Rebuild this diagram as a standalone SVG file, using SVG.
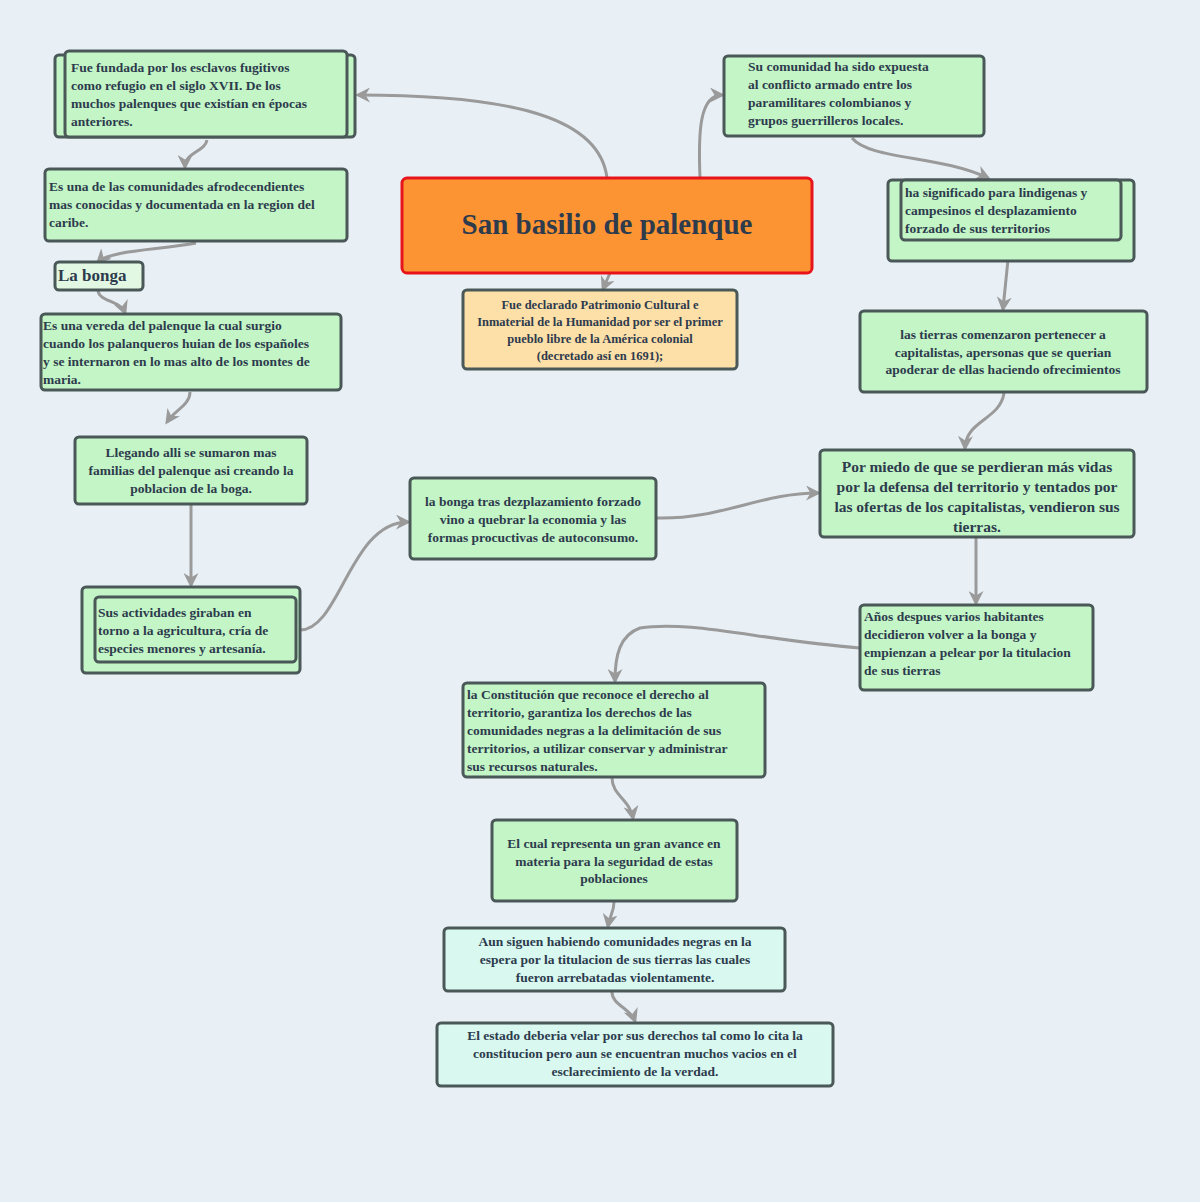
<svg xmlns="http://www.w3.org/2000/svg" width="1200" height="1202" viewBox="0 0 1200 1202">
<defs>
<marker id="ah" viewBox="0 0 10 10" refX="8" refY="5" markerWidth="5" markerHeight="5" orient="auto-start-reverse"><path d="M0,0 L10,5 L0,10 L3,5 Z" fill="#9a9a9a"/></marker>
<style>
.n{fill:#c3f5c6;stroke:#4a5858;stroke-width:3}
.c{fill:none;stroke:#9a9a9a;stroke-width:3;marker-end:url(#ah)}
text{font-family:"Liberation Serif","DejaVu Serif",serif;font-weight:bold;fill:#2d3b4d;font-size:13.5px}
.m{text-anchor:middle}
</style>
</defs>
<rect width="1200" height="1202" fill="#e8f0f6"/>
<g id="connectors">
<path class="c" d="M607,178 C600,120 520,95 358,95"/>
<path class="c" d="M700,178 C698,130 700,95 722,95"/>
<path class="c" d="M207,140 C205,152 185,152 185,167"/>
<path class="c" d="M196,243 C160,250 110,250 98,262"/>
<path class="c" d="M98,291 C100,302 120,300 125,313"/>
<path class="c" d="M190,392 C190,405 175,410 167,422"/>
<path class="c" d="M191,505 L191,585"/>
<path class="c" d="M300,630 C340,630 350,522 408,522"/>
<path class="c" d="M656,518 C720,520 760,493 818,493"/>
<path class="c" d="M610,273 L603,289"/>
<path class="c" d="M852,138 C870,160 940,155 988,178"/>
<path class="c" d="M1010,240 L1003,309"/>
<path class="c" d="M1004,393 C1000,420 966,420 965,448"/>
<path class="c" d="M976,538 L976,603"/>
<path class="c" d="M860,648 C760,640 690,620 640,628 C620,635 615,655 615,681"/>
<path class="c" d="M612,778 C612,795 630,800 633,818"/>
<path class="c" d="M614,902 C614,912 610,915 608,926"/>
<path class="c" d="M612,992 C612,1005 630,1008 635,1021"/>
</g>
<g id="n1"><rect class="n" x="55" y="55" width="300" height="82" rx="4"/><rect class="n" x="65" y="51" width="282" height="86" rx="4"/>
<text x="71" y="72">Fue fundada por los esclavos fugitivos</text><text x="71" y="90">como refugio en el siglo XVII. De los</text><text x="71" y="108">muchos palenques que existían en épocas</text><text x="71" y="126">anteriores.</text></g>
<g id="n2"><rect class="n" x="45" y="169" width="302" height="72" rx="4"/>
<text x="49" y="191">Es una de las comunidades  afrodecendientes</text><text x="49" y="209">mas conocidas y documentada en la region del</text><text x="49" y="227">caribe.</text></g>
<g id="n3"><rect x="55" y="262" width="88" height="28" rx="4" fill="#e2f8e2" stroke="#4a5858" stroke-width="3"/>
<text x="58" y="281" style="font-size:17px">La bonga</text></g>
<g id="n4"><rect class="n" x="41" y="314" width="300" height="76" rx="4"/>
<text x="43" y="330">Es una vereda del palenque la cual surgio</text><text x="43" y="348">cuando los palanqueros huian de los españoles</text><text x="43" y="366">y se internaron en lo mas alto de los montes de</text><text x="43" y="384">maria.</text></g>
<g id="n5"><rect class="n" x="75" y="437" width="232" height="67" rx="4"/>
<text class="m" x="191" y="457">Llegando alli se sumaron mas</text><text class="m" x="191" y="475">familias del palenque asi creando la</text><text class="m" x="191" y="493">poblacion de la boga.</text></g>
<g id="n6"><rect class="n" x="82" y="587" width="218" height="86" rx="4"/><rect class="n" x="95" y="597" width="201" height="65" rx="4"/>
<text x="98" y="617">Sus actividades giraban en</text><text x="98" y="635">torno a la agricultura, cría de</text><text x="98" y="653">especies menores y artesanía.</text></g>
<g id="n7"><rect x="402" y="178" width="410" height="95" rx="5" fill="#fd9433" stroke="#e8141c" stroke-width="3"/>
<text class="m" x="607" y="234" style="font-size:29px">San basilio de palenque</text></g>
<g id="n8"><rect class="n" x="463" y="290" width="274" height="79" rx="4" style="fill:#fddfa8"/>
<text class="m" x="600" y="309" style="font-size:12.5px">Fue declarado Patrimonio Cultural e</text><text class="m" x="600" y="326" style="font-size:12.5px">Inmaterial de la Humanidad por ser el primer</text><text class="m" x="600" y="343" style="font-size:12.5px">pueblo libre de la América colonial</text><text class="m" x="600" y="360" style="font-size:12.5px">(decretado así en 1691);</text></g>
<g id="n9"><rect class="n" x="410" y="478" width="246" height="81" rx="4"/>
<text class="m" x="533" y="506">la bonga tras dezplazamiento forzado</text><text class="m" x="533" y="524">vino a quebrar la economia y las</text><text class="m" x="533" y="542">formas procuctivas de autoconsumo.</text></g>
<g id="n10"><rect class="n" x="724" y="56" width="260" height="80" rx="4"/>
<text x="748" y="71">Su comunidad ha sido expuesta</text><text x="748" y="89">al conflicto armado entre los</text><text x="748" y="107">paramilitares colombianos y</text><text x="748" y="125">grupos guerrilleros locales.</text></g>
<g id="n11"><rect class="n" x="888" y="180" width="246" height="81" rx="4"/><rect class="n" x="901" y="180" width="220" height="60" rx="4"/>
<text x="905" y="197">ha significado para lindigenas y</text><text x="905" y="215">campesinos  el desplazamiento</text><text x="905" y="233">forzado de sus territorios</text></g>
<g id="n12"><rect class="n" x="860" y="311" width="287" height="81" rx="4"/>
<text class="m" x="1003" y="339">las tierras comenzaron  pertenecer a</text><text class="m" x="1003" y="357">capitalistas, apersonas que se querian</text><text class="m" x="1003" y="374">apoderar  de ellas haciendo ofrecimientos</text></g>
<g id="n13"><rect class="n" x="820" y="450" width="314" height="87" rx="4"/>
<text class="m" x="977" y="472" style="font-size:15.5px">Por miedo de que se perdieran más vidas</text><text class="m" x="977" y="492" style="font-size:15.5px">por la defensa del territorio y tentados por</text><text class="m" x="977" y="512" style="font-size:15.5px">las ofertas de los capitalistas, vendieron sus</text><text class="m" x="977" y="532" style="font-size:15.5px">tierras.</text></g>
<g id="n14"><rect class="n" x="860" y="605" width="233" height="85" rx="4"/>
<text x="864" y="621">Años despues varios habitantes</text><text x="864" y="639">decidieron volver a la bonga y</text><text x="864" y="657">empienzan a pelear por la titulacion</text><text x="864" y="675">de sus tierras</text></g>
<g id="n15"><rect class="n" x="463" y="683" width="302" height="94" rx="4"/>
<text x="467" y="699">la Constitución que reconoce el derecho al</text><text x="467" y="717">territorio, garantiza los derechos de las</text><text x="467" y="735">comunidades negras a la delimitación de sus</text><text x="467" y="753">territorios, a utilizar conservar y administrar</text><text x="467" y="771">sus recursos naturales.</text></g>
<g id="n16"><rect class="n" x="492" y="820" width="245" height="81" rx="4"/>
<text class="m" x="614" y="848">El cual representa un gran avance en</text><text class="m" x="614" y="866">materia para la seguridad de estas</text><text class="m" x="614" y="883">poblaciones</text></g>
<g id="n17"><rect class="n" x="444" y="928" width="341" height="63" rx="4" style="fill:#d8f8f0"/>
<text class="m" x="615" y="946">Aun siguen habiendo comunidades negras en la</text><text class="m" x="615" y="964">espera por la titulacion de sus tierras las cuales</text><text class="m" x="615" y="982">fueron arrebatadas violentamente.</text></g>
<g id="n18"><rect class="n" x="437" y="1023" width="396" height="63" rx="4" style="fill:#d8f8f0"/>
<text class="m" x="635" y="1040">El estado deberia velar por sus derechos tal como lo cita la</text><text class="m" x="635" y="1058">constitucion pero aun se encuentran muchos vacios  en el</text><text class="m" x="635" y="1076">esclarecimiento de la verdad.</text></g>
</svg>
